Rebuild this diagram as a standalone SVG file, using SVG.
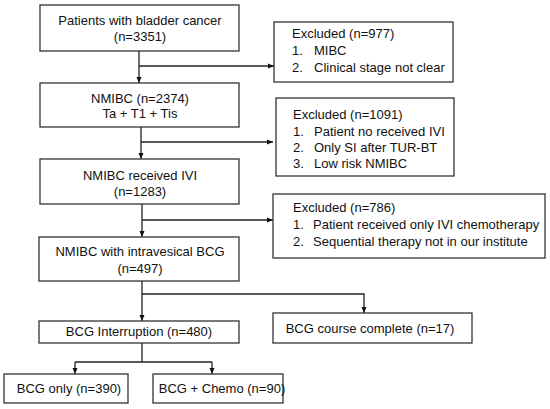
<svg xmlns="http://www.w3.org/2000/svg" width="550" height="409" viewBox="0 0 550 409">
<style>
.box{fill:#fff;stroke:#333;stroke-width:1.3}
.t{font-family:"Liberation Sans",Arial,sans-serif;font-size:13px;fill:#111}
.c{text-anchor:middle}
.ln{fill:none;stroke:#222;stroke-width:1.3}
</style>
<defs>
<marker id="ah" markerUnits="userSpaceOnUse" markerWidth="6" markerHeight="6" refX="6" refY="3" orient="auto">
<path d="M0,0.5 L6,3 L0,5.5 Z" fill="#111"/>
</marker>
</defs>
<rect width="550" height="409" fill="#fff"/>
<g id="connectors">
<path class="ln" d="M139 51 V83" marker-end="url(#ah)"/>
<path class="ln" d="M139 66 H274" marker-end="url(#ah)"/>
<path class="ln" d="M141 127 V159" marker-end="url(#ah)"/>
<path class="ln" d="M141 142 H273" marker-end="url(#ah)"/>
<path class="ln" d="M142 204 V237" marker-end="url(#ah)"/>
<path class="ln" d="M142 220 H273" marker-end="url(#ah)"/>
<path class="ln" d="M142 281 V321" marker-end="url(#ah)"/>
<path class="ln" d="M142 294 H364 V313" marker-end="url(#ah)"/>
<path class="ln" d="M142 343 V362 M75 362 H212"/>
<path class="ln" d="M75 362 V374" marker-end="url(#ah)"/>
<path class="ln" d="M212 362 V374" marker-end="url(#ah)"/>
</g>
<g id="n1">
<rect class="box" x="40" y="5" width="199" height="46"/>
<text class="t c" x="140" y="25">Patients with bladder cancer</text>
<text class="t c" x="140" y="41">(n=3351)</text>
</g>
<g id="e1">
<rect class="box" x="274" y="22" width="179" height="60"/>
<text class="t" x="292" y="38">Excluded (n=977)</text>
<text class="t" x="292" y="55">1.</text><text class="t" x="314" y="55">MIBC</text>
<text class="t" x="292" y="72">2.</text><text class="t" x="314" y="72">Clinical stage not clear</text>
</g>
<g id="n2">
<rect class="box" x="40" y="83" width="199" height="44"/>
<text class="t c" x="140" y="103">NMIBC (n=2374)</text>
<text class="t c" x="140" y="118">Ta + T1 + Tis</text>
</g>
<g id="e2">
<rect class="box" x="276" y="98" width="178" height="78"/>
<text class="t" x="293" y="119">Excluded (n=1091)</text>
<text class="t" x="293" y="136">1.</text><text class="t" x="314" y="136">Patient no received IVI</text>
<text class="t" x="293" y="152">2.</text><text class="t" x="314" y="152">Only SI after TUR-BT</text>
<text class="t" x="293" y="168">3.</text><text class="t" x="314" y="168">Low risk NMIBC</text>
</g>
<g id="n3">
<rect class="box" x="40" y="159" width="199" height="45"/>
<text class="t c" x="140" y="180">NMIBC received IVI</text>
<text class="t c" x="140" y="196">(n=1283)</text>
</g>
<g id="e3">
<rect class="box" x="273" y="194" width="272" height="64"/>
<text class="t" x="293" y="212">Excluded (n=786)</text>
<text class="t" x="293" y="229">1.</text><text class="t" x="313" y="229">Patient received only IVI chemotherapy</text>
<text class="t" x="293" y="246">2.</text><text class="t" x="313" y="246">Sequential therapy not in our institute</text>
</g>
<g id="n4">
<rect class="box" x="39" y="237" width="200" height="44"/>
<text class="t c" x="140" y="256">NMIBC with intravesical BCG</text>
<text class="t c" x="140" y="273">(n=497)</text>
</g>
<g id="n5">
<rect class="box" x="39" y="321" width="200" height="22"/>
<text class="t c" x="139" y="336">BCG Interruption (n=480)</text>
</g>
<g id="n6">
<rect class="box" x="273" y="313" width="199" height="30"/>
<text class="t c" x="370" y="333">BCG course complete (n=17)</text>
</g>
<g id="n7">
<rect class="box" x="4" y="374" width="124" height="29"/>
<text class="t c" x="69" y="393">BCG only (n=390)</text>
</g>
<g id="n8">
<rect class="box" x="153" y="374" width="130" height="29"/>
<text class="t c" x="222" y="393">BCG + Chemo (n=90)</text>
</g>
</svg>
